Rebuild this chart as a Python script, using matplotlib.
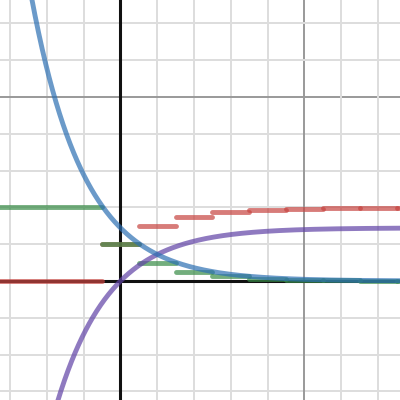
import numpy as np
import matplotlib
matplotlib.use("Agg")
import matplotlib.pyplot as plt

# ---- data ----
step_n = [0, 1, 2, 3, 4, 5, 6, 7, 8]
green_steps = [1.0, 0.5, 0.25, 0.125, 0.0625, 0.03125, 0.0156, 0.0078, 0.0039]
red_steps = [1.0, 1.5, 1.75, 1.875, 1.9375, 1.96875, 1.984, 1.992, 1.996]
green_left = 2.0   # level for x < -0.5
red_left = 0.0     # level for x < -0.5
left_end = -0.5

# smooth curves: blue = c * b^(-x), purple = c * (1 - b^(-x))
curve_scale = 1.4427
curve_base = 2.0

x_lim = (-3.274, 7.595)
y_lim = (-3.234, 7.636)

BLUE = "#2d70b3"
RED = "#c74440"
GREEN = "#388c46"
PURPLE = "#6042a6"
ALPHA = 0.7

fig = plt.figure(figsize=(4, 4), dpi=100)
ax = fig.add_axes([0, 0, 1, 1])
ax.set_xlim(*x_lim)
ax.set_ylim(*y_lim)
for s in ax.spines.values():
    s.set_visible(False)
ax.set_xticks([])
ax.set_yticks([])

# grid
for k in range(-3, 8):
    c, w = ("#999999", 1.4) if k % 5 == 0 else ("#dddddd", 1.4)
    if k != 0:
        ax.axvline(k, color=c, lw=w, zorder=1)
        ax.axhline(k, color=c, lw=w, zorder=1)
    elif k % 5 == 0:
        pass
ax.axhline(0, color="#111111", lw=2.2, zorder=2)
ax.axvline(0, color="#111111", lw=2.2, zorder=2)

lw = 3.5
# left constant pieces
ax.plot([x_lim[0] - 1, left_end], [green_left, green_left], color=GREEN, alpha=ALPHA,
        lw=lw, solid_capstyle="round", zorder=3)
ax.plot([x_lim[0] - 1, left_end], [red_left, red_left], color=RED, alpha=ALPHA,
        lw=lw, solid_capstyle="round", zorder=3)

# step segments
for n, g, r in zip(step_n, green_steps, red_steps):
    ax.plot([n - 0.5, n + 0.5], [r, r], color=RED, alpha=ALPHA, lw=lw,
            solid_capstyle="round", zorder=3)
for n, g, r in zip(step_n, green_steps, red_steps):
    ax.plot([n - 0.5, n + 0.5], [g, g], color=GREEN, alpha=ALPHA, lw=lw,
            solid_capstyle="round", zorder=3)

xs = np.linspace(x_lim[0], x_lim[1], 800)
purple = curve_scale * (1 - curve_base ** (-xs))
blue = curve_scale * curve_base ** (-xs)
ax.plot(xs, purple, color=PURPLE, alpha=ALPHA, lw=lw, zorder=4)
ax.plot(xs, blue, color=BLUE, alpha=ALPHA, lw=lw, zorder=4)

fig.savefig("out.png", dpi=100)
